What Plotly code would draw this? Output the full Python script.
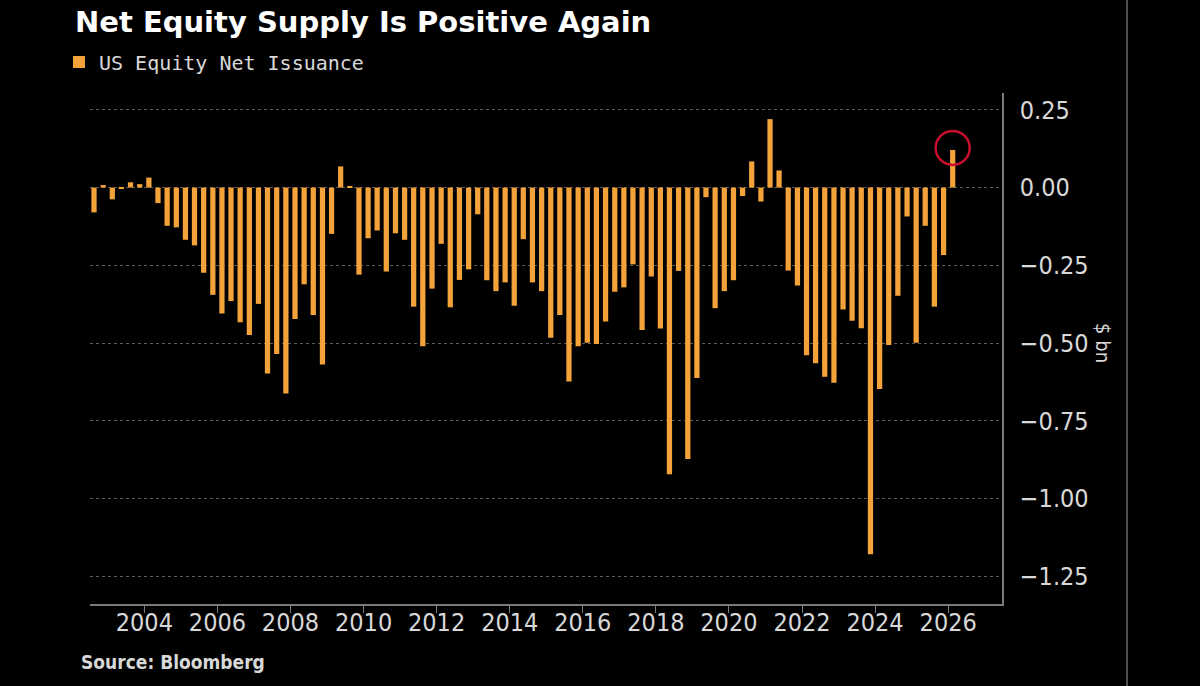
import pandas as pd
import plotly.graph_objects as go

# ---- data ----
start_quarter = "2002Q3"
end_quarter = "2026Q1"
net_issuance = [
    -0.080, 0.008, -0.038, -0.004, 0.017, 0.011, 0.032, -0.050, -0.123, -0.128,
    -0.168, -0.186, -0.274, -0.345, -0.405, -0.365, -0.433, -0.474, -0.374, -0.598,
    -0.535, -0.662, -0.423, -0.311, -0.410, -0.569, -0.149, 0.068, 0.003, -0.280,
    -0.163, -0.138, -0.270, -0.147, -0.168, -0.383, -0.510, -0.325, -0.181, -0.385,
    -0.297, -0.263, -0.086, -0.298, -0.333, -0.305, -0.380, -0.166, -0.305, -0.333,
    -0.483, -0.410, -0.624, -0.510, -0.499, -0.503, -0.431, -0.335, -0.321, -0.247,
    -0.458, -0.286, -0.453, -0.922, -0.268, -0.873, -0.612, -0.031, -0.388, -0.333,
    -0.298, -0.027, 0.084, -0.045, 0.220, 0.055, -0.267, -0.315, -0.539, -0.565,
    -0.608, -0.628, -0.392, -0.428, -0.452, -1.179, -0.648, -0.506, -0.348, -0.093,
    -0.499, -0.123, -0.383, -0.217, 0.121,
]
y_tickvals = [0.25, 0.0, -0.25, -0.5, -0.75, -1.0, -1.25]
x_tickvals = [f"{y}-01-01" for y in range(2004, 2027, 2)]
x_ticktext = [str(y) for y in range(2004, 2027, 2)]

periods = pd.period_range(start_quarter, end_quarter, freq="Q")
dates = [p.start_time + (p.end_time - p.start_time) / 2 for p in periods]

ORANGE = "#F4A23A"
GRID = "#5a5a5a"
AXIS = "#7a7a7a"
TXT = "#d8d8d8"
TICKFONT = "Liberation Sans Narrow, DejaVu Sans Condensed, Arial Narrow, DejaVu Sans"

fig = go.Figure()
fig.add_trace(go.Bar(
    x=dates, y=net_issuance, name="US Equity Net Issuance",
    marker=dict(color=ORANGE, line=dict(width=0)),
    showlegend=True,
))

fig.update_layout(
    width=1200, height=686,
    paper_bgcolor="black", plot_bgcolor="black",
    margin=dict(l=90, r=198, t=93, b=82),
    bargap=0.42,
    title=dict(
        text="<b>Net Equity Supply Is Positive Again</b>",
        x=75 / 1200, xanchor="left", y=1 - 22 / 686, yanchor="middle",
        font=dict(family="DejaVu Sans", size=29, color="white"),
    ),
    showlegend=True,
    legend=dict(
        x=-0.034, xanchor="left", y=1 + (93 - 62) / 511, yanchor="middle",
        font=dict(family="DejaVu Sans Mono", size=20, color=TXT),
        bgcolor="rgba(0,0,0,0)", itemclick=False,
    ),
    xaxis=dict(
        type="date",
        range=["2002-07-07", "2027-06-23"],
        tickvals=x_tickvals, ticktext=x_ticktext,
        showgrid=False, zeroline=False,
        showline=True, linecolor=AXIS, linewidth=1.5,
        ticks="outside", ticklen=7, tickcolor=AXIS, tickwidth=1,
        ticklabelstandoff=-12,
        tickfont=dict(family=TICKFONT, size=25, color=TXT),
    ),
    yaxis=dict(
        side="right",
        range=[-1.339, 0.304],
        tickvals=y_tickvals, tickformat=".2f",
        showgrid=True, gridcolor=GRID, griddash="dot", gridwidth=1,
        zeroline=False,
        showline=True, linecolor=AXIS, linewidth=1.5,
        ticks="", ticklabelstandoff=11,
        tickfont=dict(family=TICKFONT, size=25, color=TXT),
    ),
)

# y-axis unit label (reads top to bottom)
fig.add_annotation(
    text="$ bn", textangle=90, showarrow=False,
    xref="paper", yref="y", x=(1103 - 90) / 912, y=-0.5,
    xanchor="center", yanchor="middle",
    font=dict(family=TICKFONT, size=20, color=TXT),
)
# source note
fig.add_annotation(
    text="<b>Source: Bloomberg</b>", showarrow=False,
    xref="paper", yref="paper", x=(79 - 90) / 912, y=-(662 - 604) / 511,
    xanchor="left", yanchor="middle",
    font=dict(family=TICKFONT, size=19, color=TXT),
)
# highlight circle around the latest bar
fig.add_shape(
    type="circle", xref="x", yref="y",
    xsizemode="pixel", ysizemode="pixel",
    xanchor=dates[-1], yanchor=net_issuance[-1],
    x0=-17, x1=17, y0=-15, y1=19,
    line=dict(color="#c8102e", width=2.5),
)
# right-hand divider line of the image
fig.add_shape(
    type="line", xref="paper", yref="paper",
    x0=(1127 - 90) / 912, x1=(1127 - 90) / 912, y0=-0.2, y1=1.25,
    line=dict(color="#6a6a6a", width=1.5),
)

fig.write_html("out.html")
